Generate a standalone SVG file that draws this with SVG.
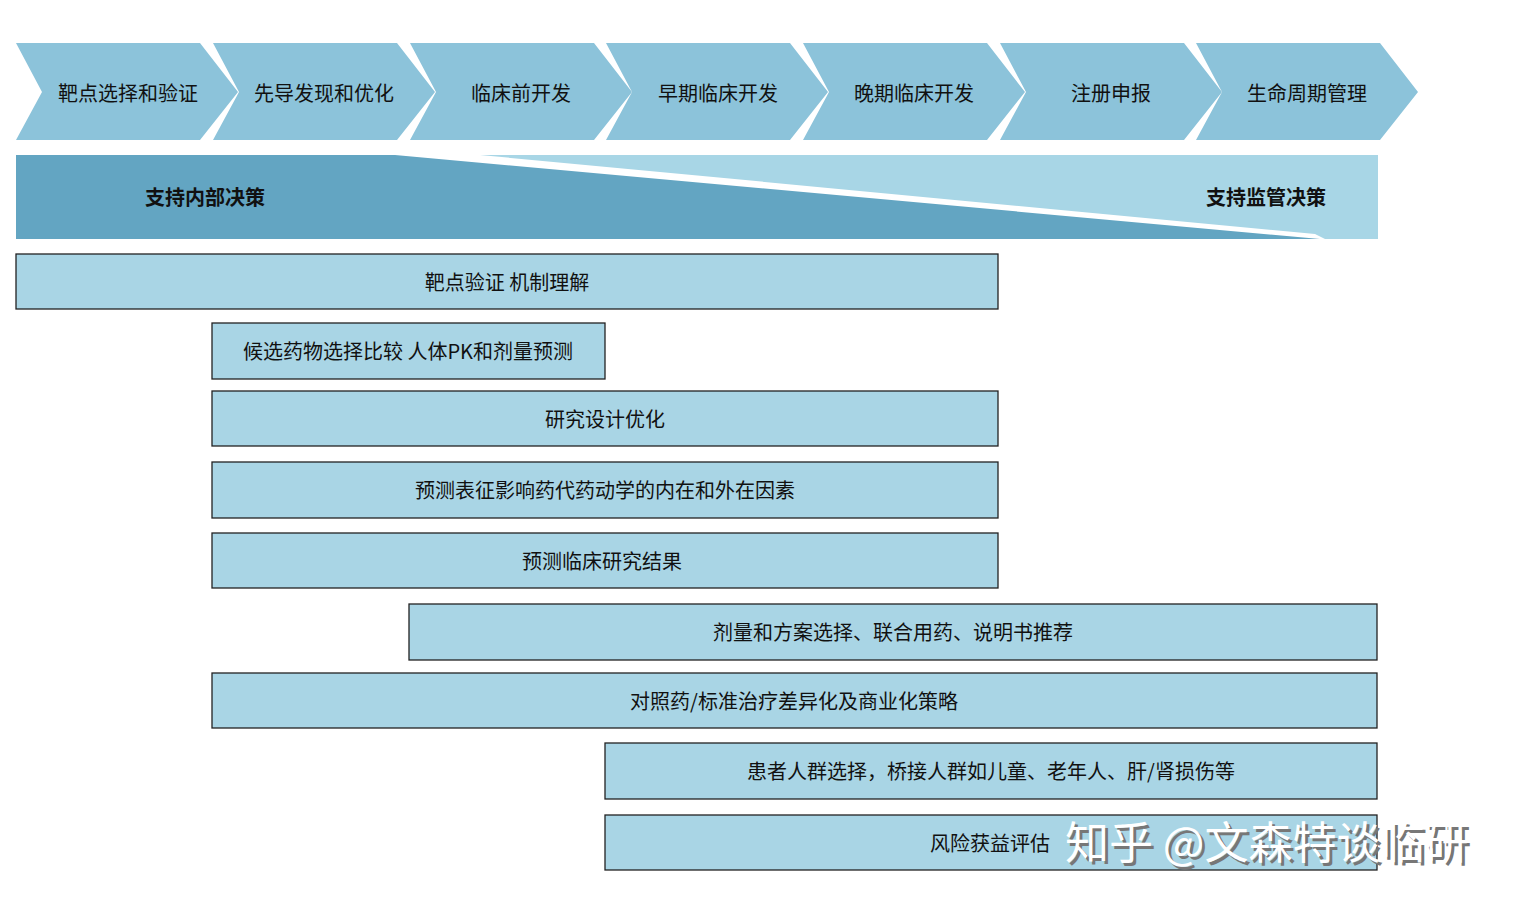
<svg xmlns="http://www.w3.org/2000/svg" width="1520" height="910" viewBox="0 0 1520 910">
<style>
.ch{fill:#8cc3da}
.t{font-family:"Noto Sans CJK SC","Liberation Sans",sans-serif;font-size:20px;fill:#111;text-anchor:middle;dominant-baseline:central}
.b{font-weight:bold}
.box{fill:#a9d5e5;stroke:#222;stroke-width:1.3}
.wm{font-family:"Noto Sans CJK SC",sans-serif;font-size:44px}
</style>
<rect width="1520" height="910" fill="#fff"/>
<g id="stages">
<g id="s1"><polygon class="ch" points="16,43 200,43 238,92 200,140 16,140 42,92"/><text class="t" x="128" y="92">靶点选择和验证</text></g>
<g id="s2"><polygon class="ch" points="213,43 397,43 435,92 397,140 213,140 239,92"/><text class="t" x="324" y="92">先导发现和优化</text></g>
<g id="s3"><polygon class="ch" points="410,43 594,43 632,92 594,140 410,140 436,92"/><text class="t" x="521" y="92">临床前开发</text></g>
<g id="s4"><polygon class="ch" points="606,43 790,43 828,92 790,140 606,140 632,92"/><text class="t" x="718" y="92">早期临床开发</text></g>
<g id="s5"><polygon class="ch" points="803,43 987,43 1025,92 987,140 803,140 829,92"/><text class="t" x="914" y="92">晚期临床开发</text></g>
<g id="s6"><polygon class="ch" points="1000,43 1184,43 1222,92 1184,140 1000,140 1026,92"/><text class="t" x="1111" y="92">注册申报</text></g>
<g id="s7"><polygon class="ch" points="1196,43 1380,43 1418,92 1380,140 1196,140 1222,92"/><text class="t" x="1307" y="92">生命周期管理</text></g>
</g>
<g id="band">
<polygon fill="#a8d6e6" points="480,155 1378,155 1378,239 1325,239 1315,234"/>
<polygon fill="#63a5c2" points="16,155 395,155 1320,239 16,239"/>
<text class="t b" x="205" y="196">支持内部决策</text>
<text class="t b" x="1266" y="196">支持监管决策</text>
</g>
<g id="n1"><rect class="box" x="16" y="254" width="982" height="55"/><text class="t" x="507" y="281">靶点验证 机制理解</text></g>
<g id="n2"><rect class="box" x="212" y="323" width="393" height="56"/><text class="t" x="408" y="350">候选药物选择比较 人体PK和剂量预测</text></g>
<g id="n3"><rect class="box" x="212" y="391" width="786" height="55"/><text class="t" x="605" y="418">研究设计优化</text></g>
<g id="n4"><rect class="box" x="212" y="462" width="786" height="56"/><text class="t" x="605" y="489">预测表征影响药代药动学的内在和外在因素</text></g>
<g id="n5"><rect class="box" x="212" y="533" width="786" height="55"/><text class="t" x="602" y="560">预测临床研究结果</text></g>
<g id="n6"><rect class="box" x="409" y="604" width="968" height="56"/><text class="t" x="893" y="631">剂量和方案选择、联合用药、说明书推荐</text></g>
<g id="n7"><rect class="box" x="212" y="673" width="1165" height="55"/><text class="t" x="794" y="700">对照药/标准治疗差异化及商业化策略</text></g>
<g id="n8"><rect class="box" x="605" y="743" width="772" height="56"/><text class="t" x="991" y="770">患者人群选择，桥接人群如儿童、老年人、肝/肾损伤等</text></g>
<g id="n9"><rect class="box" x="605" y="815" width="772" height="55"/><text class="t" x="990" y="842">风险获益评估</text></g>
<g id="connectors"/>
<g id="watermark">
<text class="wm" x="1068" y="862" fill="#777">知乎 @文森特谈临研</text>
<text class="wm" x="1065" y="859" fill="#fff">知乎 @文森特谈临研</text>
</g>
</svg>
